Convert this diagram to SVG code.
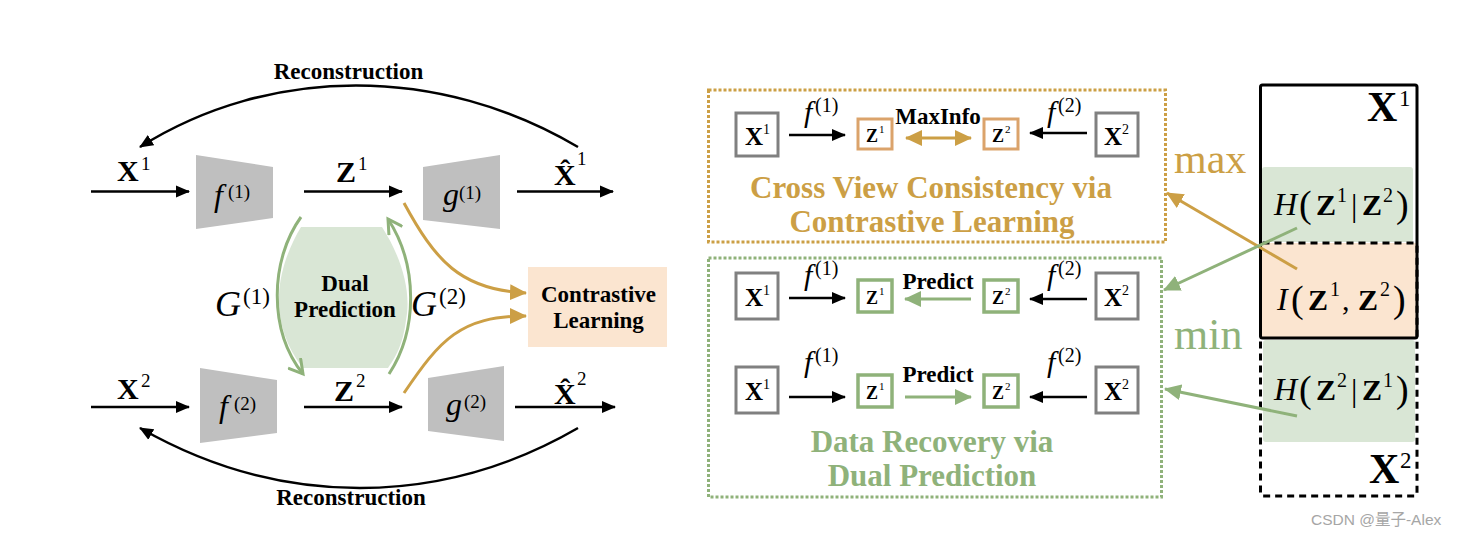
<svg xmlns="http://www.w3.org/2000/svg" width="1458" height="536" viewBox="0 0 1458 536">
<defs>
<marker id="ab" markerUnits="userSpaceOnUse" markerWidth="14" markerHeight="14" refX="13" refY="7" orient="auto-start-reverse"><path d="M0 1L14 7L0 13Z" fill="#000"/></marker>
<marker id="ag" markerUnits="userSpaceOnUse" markerWidth="17" markerHeight="16" refX="16" refY="8" orient="auto-start-reverse"><path d="M0 0L17 8L0 16Z" fill="#cc9f45"/></marker>
<marker id="agr" markerUnits="userSpaceOnUse" markerWidth="17" markerHeight="16" refX="16" refY="8" orient="auto-start-reverse"><path d="M0 0L17 8L0 16Z" fill="#8fb27a"/></marker>
<marker id="ao" markerUnits="userSpaceOnUse" markerWidth="18" markerHeight="18" refX="15" refY="9" orient="auto"><path d="M1 1L15 9L1 17" fill="none" stroke="#8fb27a" stroke-width="3"/></marker>
</defs>
<style>
text{font-family:"Liberation Serif","Noto Sans CJK SC",serif;fill:#000}
.l{font-size:23px;font-weight:bold;text-anchor:middle}
.m{font-size:30px;font-weight:bold}
.s{font-size:19px}
.fn{font-size:32px;font-style:italic}
.sup{font-size:19px}
.trap{fill:#bfbfbf}
.kt{fill:none;stroke:#000;stroke-width:2.500;marker-end:url(#ab)}
.gd{fill:none;stroke:#cc9f45;stroke-width:3}
.gr{fill:none;stroke:#8fb27a;stroke-width:3}
.bx{fill:#fff;stroke:#808080;stroke-width:3}
.zo{fill:#fff;stroke:#dba36b;stroke-width:3}
.zg{fill:#fff;stroke:#8fb27a;stroke-width:3.500}
.bt{font-size:25px;font-weight:bold}
.bs{font-size:14px}
.zt{font-size:18px;font-weight:bold}
.zs{font-size:11px}
.ff{font-size:30px;font-style:italic}
.fs{font-size:20px}
.tg{font-size:31px;font-weight:bold;text-anchor:middle;fill:#cc9f45}
.tr{font-size:31px;font-weight:bold;text-anchor:middle;fill:#8fb27a}
.p{font-size:23px;font-weight:bold;text-anchor:middle}
.eh{font-size:32px;font-style:italic}
.ez{font-size:30px;font-weight:bold}
.ep{font-size:38px}
.eqs{font-size:20px}
.gg{font-size:36px;font-style:italic}
.gs{font-size:23px}
</style>

<g id="dual-prediction">
<path d="M301 227H382C400 255 412 290 406 320C403 345 395 358 388 368H303C285 345 278 320 279 295C280 270 290 245 301 227Z" fill="#d9e6d5"/>
<text class="p" x="345" y="291">Dual</text>
<text class="p" x="345" y="317">Prediction</text>
</g>
<g id="f1"><path class="trap" d="M196 155L273 167V218L196 229Z"/><text class="fn" x="214" y="206">f</text><text class="sup" x="228" y="198">(1)</text></g>
<g id="g1"><path class="trap" d="M423 167L500 155V229L423 220Z"/><text class="fn" x="443" y="205">g</text><text class="sup" x="459" y="199">(1)</text></g>
<g id="f2"><path class="trap" d="M200 368L277 380V433L200 443Z"/><text class="fn" x="219" y="417">f</text><text class="sup" x="234" y="410">(2)</text></g>
<g id="g2"><path class="trap" d="M428 378L504 366V441L428 431Z"/><text class="fn" x="446" y="415">g</text><text class="sup" x="464" y="408">(2)</text></g>
<g id="contrastive"><rect x="528" y="267" width="139" height="80" fill="#fbe5d0"/>
<text class="p" x="598.500" y="302">Contrastive</text><text class="p" x="598.500" y="328">Learning</text></g>

<g id="labels-left">
<text class="l" x="348.500" y="79">Reconstruction</text>
<text class="l" x="351" y="505">Reconstruction</text>
<text class="m" x="117" y="181">X</text><text class="s" x="141" y="170">1</text>
<text class="m" x="117" y="399">X</text><text class="s" x="141" y="387">2</text>
<text class="m" x="336" y="182">Z</text><text class="s" x="358" y="170">1</text>
<text class="m" x="334" y="401">Z</text><text class="s" x="356" y="387">2</text>
<text class="m" x="554" y="185">X̂</text><text class="s" x="577" y="165">1</text>
<text class="m" x="554" y="404">X̂</text><text class="s" x="577" y="385">2</text>
<text class="gg" x="215" y="316">G</text><text class="gs" x="243" y="304">(1)</text>
<text class="gg" x="411" y="316">G</text><text class="gs" x="439" y="304">(2)</text>
</g>

<g id="x1a"><rect class="bx" x="736" y="113" width="42" height="43"/><text class="bt" x="745" y="145">X</text><text class="bs" x="763" y="134">1</text></g>
<g id="z1a"><rect class="zo" x="858" y="119" width="34" height="30"/><text class="zt" x="866" y="142">Z</text><text class="zs" x="879" y="133">1</text></g>
<g id="z2a"><rect class="zo" x="984" y="119" width="34" height="30"/><text class="zt" x="992" y="142">Z</text><text class="zs" x="1005" y="133">2</text></g>
<g id="x2a"><rect class="bx" x="1096" y="113" width="42" height="43"/><text class="bt" x="1104" y="145">X</text><text class="bs" x="1122" y="134">2</text></g>

<g id="x1b"><rect class="bx" x="736" y="273" width="42" height="46"/><text class="bt" x="745" y="306">X</text><text class="bs" x="763" y="295">1</text></g>
<g id="z1b"><rect class="zg" x="858" y="280" width="34" height="32"/><text class="zt" x="866" y="304">Z</text><text class="zs" x="879" y="295">1</text></g>
<g id="z2b"><rect class="zg" x="984" y="280" width="34" height="32"/><text class="zt" x="992" y="304">Z</text><text class="zs" x="1005" y="295">2</text></g>
<g id="x2b"><rect class="bx" x="1096" y="273" width="42" height="46"/><text class="bt" x="1104" y="306">X</text><text class="bs" x="1122" y="295">2</text></g>

<g id="x1c"><rect class="bx" x="736" y="367" width="42" height="46"/><text class="bt" x="745" y="400">X</text><text class="bs" x="763" y="389">1</text></g>
<g id="z1c"><rect class="zg" x="858" y="375" width="34" height="32"/><text class="zt" x="866" y="399">Z</text><text class="zs" x="879" y="390">1</text></g>
<g id="z2c"><rect class="zg" x="984" y="375" width="34" height="32"/><text class="zt" x="992" y="399">Z</text><text class="zs" x="1005" y="390">2</text></g>
<g id="x2c"><rect class="bx" x="1096" y="367" width="42" height="46"/><text class="bt" x="1104" y="400">X</text><text class="bs" x="1122" y="389">2</text></g>

<g id="labels-mid">
<text class="ff" x="804" y="122">f</text><text class="fs" x="815" y="112">(1)</text>
<text class="ff" x="1047" y="122">f</text><text class="fs" x="1058" y="112">(2)</text>
<text class="ff" x="804" y="285">f</text><text class="fs" x="815" y="275">(1)</text>
<text class="ff" x="1047" y="285">f</text><text class="fs" x="1058" y="275">(2)</text>
<text class="ff" x="804" y="372">f</text><text class="fs" x="815" y="362">(1)</text>
<text class="ff" x="1047" y="372">f</text><text class="fs" x="1058" y="362">(2)</text>
<text class="p" x="938" y="124">MaxInfo</text>
<text class="p" x="938" y="289">Predict</text>
<text class="p" x="938" y="382">Predict</text>
<text class="tg" x="931" y="198">Cross View Consistency via</text>
<text class="tg" x="932" y="232">Contrastive Learning</text>
<text class="tr" x="932" y="452">Data Recovery via</text>
<text class="tr" x="932" y="486">Dual Prediction</text>
</g>

<g id="frames">
<rect x="708.500" y="90" width="457" height="152" fill="none" stroke="#cc9f45" stroke-width="3" stroke-dasharray="3 2"/>
<rect x="708.500" y="258" width="453" height="239" fill="none" stroke="#8fb27a" stroke-width="3" stroke-dasharray="3 2"/>
</g>

<g id="venn">
<rect x="1262" y="167" width="151" height="75" rx="3" fill="#d9e6d5"/>
<rect x="1262" y="243" width="154" height="95" fill="#fbe5d0"/>
<rect x="1263" y="340" width="152" height="102" rx="3" fill="#d9e6d5"/>
<rect x="1260.500" y="85" width="156.500" height="253" rx="2" fill="none" stroke="#000" stroke-width="3"/>
<rect x="1260.500" y="243" width="156.500" height="253" rx="2" fill="none" stroke="#000" stroke-width="3" stroke-dasharray="7 5"/>
<text x="1367" y="121" style="font-size:42px;font-weight:bold">X</text><text x="1399" y="106" style="font-size:23px">1</text>
<text x="1369" y="483" style="font-size:42px;font-weight:bold">X</text><text x="1400" y="468" style="font-size:23px">2</text>
<text class="eh" x="1274" y="215">H</text><text class="ep" x="1299" y="217">(</text><text class="ez" x="1316" y="215">Z</text><text class="eqs" x="1337" y="202">1</text><text class="ep" style="font-size:32px" x="1351" y="216">|</text><text class="ez" x="1362" y="215">Z</text><text class="eqs" x="1383" y="202">2</text><text class="ep" x="1396" y="217">)</text>
<text class="eh" x="1277" y="310">I</text><text class="ep" x="1291" y="312">(</text><text class="ez" x="1308" y="310">Z</text><text class="eqs" x="1330" y="296">1</text><text class="ez" style="font-weight:normal" x="1342" y="310">,</text><text class="ez" x="1358" y="310">Z</text><text class="eqs" x="1380" y="296">2</text><text class="ep" x="1393" y="312">)</text>
<text class="eh" x="1274" y="400">H</text><text class="ep" x="1299" y="402">(</text><text class="ez" x="1316" y="400">Z</text><text class="eqs" x="1337" y="387">2</text><text class="ep" style="font-size:32px" x="1351" y="401">|</text><text class="ez" x="1362" y="400">Z</text><text class="eqs" x="1383" y="387">1</text><text class="ep" x="1396" y="402">)</text>
<text x="1174" y="173" style="font-size:42px;fill:#cc9f45">max</text>
<text x="1174" y="349" style="font-size:44px;fill:#8fb27a">min</text>
</g>

<g id="connectors">
<path class="kt" d="M91 191.500H189"/><path class="kt" d="M304 191.500H402"/><path class="kt" d="M517 191.500H613"/>
<path class="kt" d="M91 407H189"/><path class="kt" d="M304 407H402"/><path class="kt" d="M515 407H615"/>
<path class="kt" d="M578 147C440 65 270 65 140 147"/>
<path class="kt" d="M578 428C440 508 280 508 140 428"/>
<path class="gr" style="marker-end:url(#ao)" d="M301 217C270 260 268 330 303 374"/>
<path class="gr" style="marker-end:url(#ao)" d="M389 374C418 330 418 265 388 219"/>
<path class="gd" style="marker-end:url(#ag)" d="M404 203C435 260 460 290 526 293"/>
<path class="gd" style="marker-end:url(#ag)" d="M404 393C440 340 460 316 526 316"/>
<path class="kt" d="M789 135H845"/><path class="kt" d="M1087 133H1030"/>
<path class="gd" style="marker-start:url(#ag);marker-end:url(#ag)" d="M906 138H971"/>
<path class="kt" d="M789 298H845"/><path class="kt" d="M1087 299H1030"/>
<path class="gr" style="marker-end:url(#agr)" d="M971 299H905"/>
<path class="kt" d="M789 397H845"/><path class="kt" d="M1087 397H1030"/>
<path class="gr" style="marker-end:url(#agr)" d="M905 397H971"/>
<path class="gd" style="marker-end:url(#ag)" d="M1297 269L1167 193"/>
<path class="gr" style="marker-end:url(#agr)" d="M1297 228L1164 290"/>
<path class="gr" style="marker-end:url(#agr)" d="M1297 416L1165 389"/>
</g>

<text id="watermark" x="1311" y="525" style="font-family:'Liberation Sans','Noto Sans CJK SC',sans-serif;font-size:15.500px;fill:#a6a6a6">CSDN @量子-Alex</text>
</svg>
